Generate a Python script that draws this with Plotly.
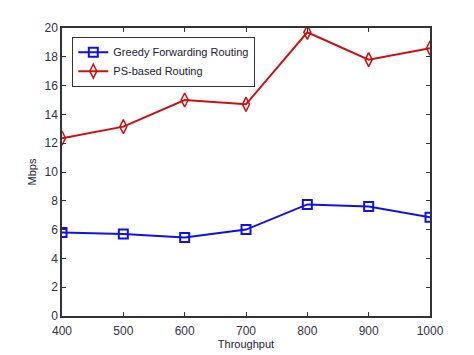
import plotly.graph_objects as go

throughput = [400, 500, 600, 700, 800, 900, 1000]
greedy = [5.8, 5.7, 5.45, 6.0, 7.75, 7.6, 6.85]
ps_based = [12.35, 13.15, 15.0, 14.7, 19.7, 17.8, 18.6]
x_ticks = [400, 500, 600, 700, 800, 900, 1000]
y_ticks = [0, 2, 4, 6, 8, 10, 12, 14, 16, 18, 20]

fig = go.Figure()
fig.add_trace(go.Scatter(
    x=throughput, y=greedy, mode="lines+markers", name="Greedy Forwarding Routing",
    line=dict(color="#1010e8", width=2),
    marker=dict(symbol="square-open", size=9, color="#1010e8", line=dict(width=2)),
))
fig.add_trace(go.Scatter(
    x=throughput, y=ps_based, mode="lines+markers", name="PS-based Routing",
    line=dict(color="#cc1010", width=2),
    marker=dict(symbol="diamond-tall-open", size=10, color="#cc1010", line=dict(width=1.5)),
))

axis_common = dict(
    showgrid=False, zeroline=False, showline=True, linecolor="#333333", linewidth=1.5,
    mirror="ticks", ticks="inside", ticklen=4, tickcolor="#333333",
    tickfont=dict(family="Arial, Liberation Sans, sans-serif", size=12, color="#333344"),
)
fig.update_layout(
    width=474, height=355,
    margin=dict(l=54, r=52, t=20, b=47),
    paper_bgcolor="white", plot_bgcolor="white",
    xaxis=dict(range=[400, 1000], tickvals=x_ticks, ticklabelstandoff=3,
               title=dict(text="Throughput", standoff=0,
                          font=dict(family="Arial, Liberation Sans, sans-serif", size=11, color="#222233")),
               **axis_common),
    yaxis=dict(range=[0, 20], tickvals=y_ticks,
               title=dict(text="Mbps", standoff=6,
                          font=dict(family="Arial, Liberation Sans, sans-serif", size=11, color="#222233")),
               **axis_common),
    legend=dict(x=0.028, y=0.97, xanchor="left", yanchor="top",
                bgcolor="white", bordercolor="#333333", borderwidth=1,
                font=dict(family="Arial, Liberation Sans, sans-serif", size=11, color="#222233"),
                tracegroupgap=0, itemwidth=30),
    showlegend=True,
)
fig.write_html("out.html")
